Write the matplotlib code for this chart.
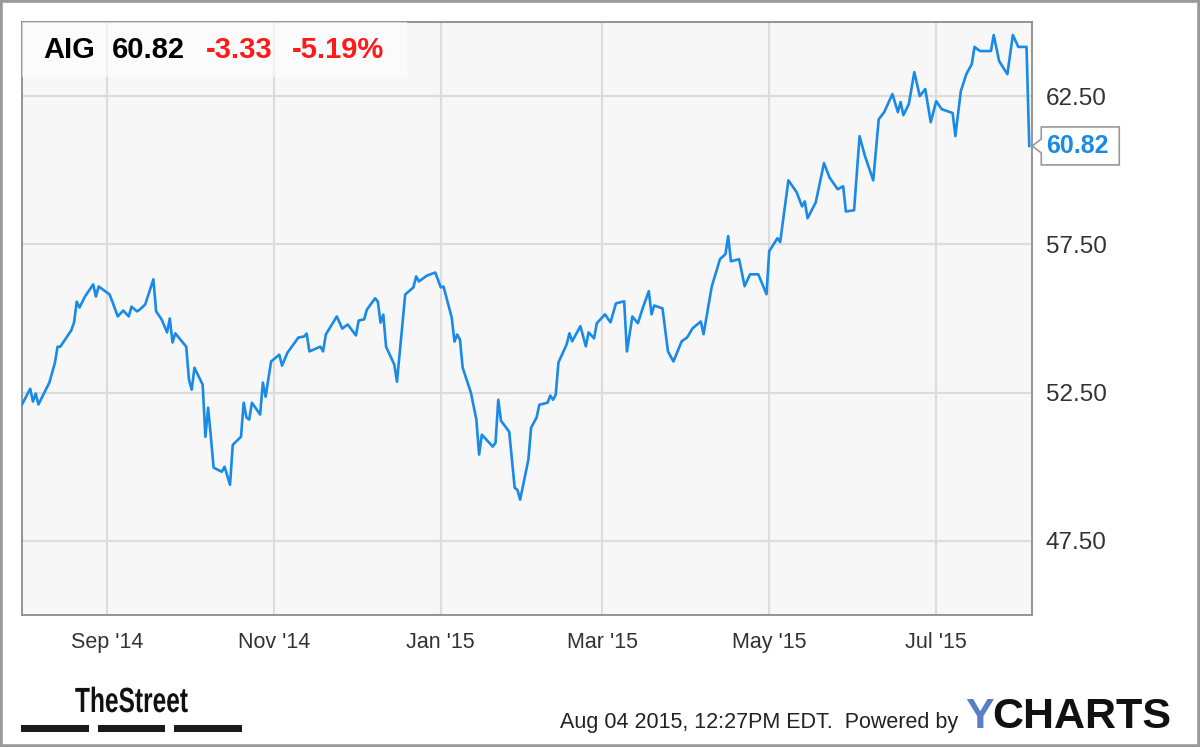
#!/usr/bin/env python
# -*- coding: utf-8 -*-

"""
  AIG share price, Aug 2014 - Aug 2015 (YCharts style).
"""

import numpy as np
import matplotlib
matplotlib.use("Agg")
import matplotlib.pyplot as plt
import matplotlib.dates as mdates
from matplotlib.patches import Rectangle, Polygon, PathPatch
from matplotlib.textpath import TextPath
from matplotlib.font_manager import FontProperties
from matplotlib.transforms import Affine2D

## Data: trading days since the start date, and the closing prices.
start_date = np.datetime64("2014-08-01")

days = [0, 3, 4, 5, 6, 8, 10, 12, 13, 14, 18, 19, 20, 21, 23, 26, 27, 28, 32, 33,
        35, 37, 39, 40, 42, 43, 45, 48, 49, 51, 53, 54, 55, 56, 60, 61, 62, 63, 66, 67,
        68, 69, 70, 73, 74, 76, 77, 80, 81, 82, 83, 84, 87, 88, 89, 91, 94, 95, 97, 101,
        103, 104, 105, 109, 110, 111, 115, 117, 119, 122, 123, 125, 126, 129, 130, 131, 132, 133, 136, 137,
        140, 143, 144, 145, 148, 151, 153, 154, 157, 158, 159, 160, 161, 164, 166, 167, 168, 172, 173, 174,
        175, 178, 180, 181, 182, 185, 186, 188, 189, 192, 193, 194, 195, 196, 199, 200, 201, 204, 206, 207,
        209, 210, 213, 215, 217, 220, 221, 223, 225, 227, 229, 230, 231, 234, 236, 238, 241, 243, 245, 248,
        249, 252, 255, 257, 258, 259, 262, 264, 266, 269, 272, 273, 276, 277, 280, 283, 285, 286, 287, 290,
        293, 295, 298, 300, 301, 304, 306, 308, 311, 313, 315, 318, 320, 321, 322, 324, 326, 328, 330, 332,
        334, 336, 340, 341, 343, 345, 347, 348, 350, 354, 355, 357, 360, 362, 364, 367, 368]

prices = [52.10, 52.63, 52.20, 52.47, 52.10, 52.47, 52.84, 53.50, 54.05, 54.05, 54.60, 54.86, 55.57, 55.37, 55.74, 56.15, 55.74, 56.08, 55.81, 55.57,
          55.07, 55.27, 55.07, 55.40, 55.24, 55.30, 55.47, 56.32, 55.24, 54.97, 54.53, 55.00, 54.19, 54.50, 54.05, 52.94, 52.60, 53.34, 52.77, 51.01,
          51.99, 51.01, 49.97, 49.83, 50.00, 49.39, 50.74, 51.01, 52.16, 51.66, 51.59, 52.16, 51.76, 52.84, 52.36, 53.55, 53.78, 53.41, 53.85, 54.36,
          54.39, 54.49, 53.89, 54.05, 53.89, 54.46, 55.07, 54.66, 54.80, 54.43, 54.93, 54.97, 55.30, 55.68, 55.57, 54.86, 55.13, 54.05, 53.45, 52.87,
          55.81, 56.05, 56.42, 56.25, 56.45, 56.55, 56.05, 56.08, 55.03, 54.22, 54.46, 54.29, 53.34, 52.50, 51.59, 50.41, 51.08, 50.68, 50.81, 52.26,
          51.55, 51.18, 49.29, 49.22, 48.89, 50.24, 51.32, 51.66, 52.09, 52.16, 52.40, 52.26, 52.43, 53.52, 54.13, 54.50, 54.23, 54.74, 54.06, 54.53,
          54.33, 54.84, 55.14, 54.87, 55.51, 55.58, 53.89, 55.07, 54.84, 55.41, 55.92, 55.14, 55.44, 55.34, 53.89, 53.55, 54.23, 54.36, 54.67, 54.90,
          54.47, 56.08, 57.00, 57.17, 57.78, 56.93, 57.00, 56.09, 56.49, 56.49, 55.82, 57.27, 57.71, 57.58, 59.66, 59.26, 58.78, 58.95, 58.38, 58.92,
          60.24, 59.76, 59.36, 59.46, 58.61, 58.65, 61.15, 60.47, 59.66, 61.72, 61.96, 62.57, 61.96, 62.30, 61.86, 62.23, 63.31, 62.50, 62.74, 61.62,
          62.33, 62.06, 61.93, 61.15, 62.67, 63.24, 63.58, 64.16, 64.02, 64.02, 64.56, 63.68, 63.24, 64.56, 64.16, 64.16, 60.82]

## Axis ticks.
y_ticks = [47.5, 52.5, 57.5, 62.5]
x_ticks = ["2014-09-01", "2014-11-01", "2015-01-01", "2015-03-01", "2015-05-01", "2015-07-01"]

## Header figures.
ticker = "AIG"
change = "-3.33"
change_pct = "-5.19%"
timestamp = "Aug 04 2015, 12:27PM EDT.  Powered by"

line_col = "#1a8ae8"
W, H = 1200, 747

plt.rcParams["font.family"] = ["Liberation Sans", "DejaVu Sans"]

dates = start_date + np.array(days, dtype="timedelta64[D]")
last_price = prices[-1]

fig = plt.figure(figsize=(W / 100.0, H / 100.0), dpi=100, facecolor="white")

# Axes placed by pixel edges (22, 22) -> (1032, 615).
ax = fig.add_axes([22.0 / W, 1 - 615.0 / H, 1010.0 / W, 593.0 / H])
ax.set_facecolor("#f7f7f7")

ax.plot(dates, prices, color=line_col, lw=1.9, solid_joinstyle="round", zorder=3)

ax.set_xlim(start_date, start_date + np.timedelta64(369, "D"))
ax.set_ylim(45.0, 65.0)

ax.set_yticks(y_ticks)
ax.yaxis.set_major_formatter(matplotlib.ticker.FormatStrFormatter("%.2f"))
ax.yaxis.tick_right()
ax.set_xticks([np.datetime64(d) for d in x_ticks])
ax.xaxis.set_major_formatter(mdates.DateFormatter("%b '%y"))

ax.tick_params(axis="y", length=0, pad=10, labelsize=17.5, labelcolor="#333333")
ax.tick_params(axis="x", length=0, pad=12, labelsize=15.5, labelcolor="#333333")

ax.grid(True, color="#dcdcdc", lw=1.5)
ax.set_axisbelow(True)
for sp in ax.spines.values():
    sp.set_color("#8c8c8c")
    sp.set_linewidth(1.3)

# Header box and numbers.
ax.add_patch(Rectangle((0, 1 - 55.0 / 593), 385.0 / 1010, 55.0 / 593, transform=ax.transAxes,
                       facecolor="white", edgecolor="none", alpha=0.6, zorder=4))
hy = 1 - 50.0 / H
fig.text(43.0 / W, hy, ticker, fontsize=21, fontweight="bold", color="black", va="center")
fig.text(112.0 / W, hy, "%.2f" % last_price, fontsize=21, fontweight="bold", color="black", va="center")
fig.text(206.0 / W, hy, change, fontsize=21, fontweight="bold", color="#ff1a1a", va="center")
fig.text(292.0 / W, hy, change_pct, fontsize=21, fontweight="bold", color="#ff1a1a", va="center")

# Last value flag, pointing at the last point.
fig.canvas.draw()
tx, ty = ax.transData.transform((mdates.date2num(dates[-1]), last_price))
tx += 3
flag = Polygon([(tx + 9, ty + 7), (tx + 9, ty + 19), (tx + 87, ty + 19), (tx + 87, ty - 19),
                (tx + 9, ty - 19), (tx + 9, ty - 7), (tx, ty)], closed=True,
               facecolor="white", edgecolor="#999999", lw=1.2, transform=None, zorder=5)
fig.patches.append(flag)
flag.set_figure(fig)
fig.text((tx + 14) / W, ty / H, "%.2f" % last_price, fontsize=18, fontweight="bold",
         color=line_col, va="center", ha="left", zorder=6)

# Footer: TheStreet logo, drawn as a squeezed text path (condensed look).
logo_path = TextPath((0, 0), "TheStreet", size=35,
                     prop=FontProperties(family="Liberation Sans", weight="bold"))
logo = PathPatch(logo_path, facecolor="#111111", edgecolor="none",
                 transform=Affine2D().scale(0.70, 1.0).translate(75, H - 712))
fig.patches.append(logo)
logo.set_figure(fig)
for x0, x1 in [(21, 89), (98, 165), (174, 242)]:
    fig.patches.append(Rectangle((x0 / float(W), 1 - 732.0 / H), (x1 - x0) / float(W), 7.0 / H,
                                 transform=fig.transFigure, facecolor="#1a1a1a", edgecolor="none"))

# Footer: timestamp and YCharts logo.
fig.text(958.0 / W, 1 - 728.0 / H, timestamp, fontsize=15.5, color="#222222", ha="right", va="baseline")
ylogo = fig.text(965.0 / W, 1 - 728.0 / H, "Y", fontsize=31, fontweight="bold", color="#5a80c4", va="baseline")
plt.annotate("CHARTS", xy=(1, 0), xycoords=ylogo, xytext=(-1, 0), textcoords="offset points",
             fontsize=31, fontweight="bold", color="#111111", va="bottom", ha="left",
             annotation_clip=False)

# Outer frame.
fig.patches.append(Rectangle((0, 0), 1, 1, transform=fig.transFigure, fill=False,
                             edgecolor="#999999", lw=4))

fig.savefig("out.png", dpi=100, facecolor="white")
